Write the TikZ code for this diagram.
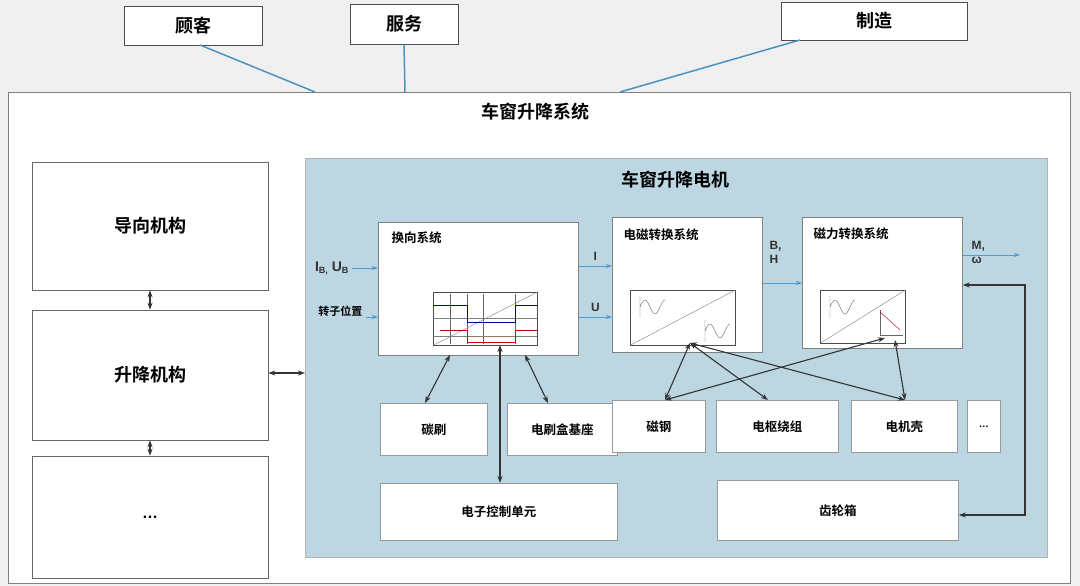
\documentclass[tikz,border=0pt]{standalone}
\usepackage{fontspec}
\usetikzlibrary{arrows.meta}
\setmainfont{Liberation Sans}
\newfontfamily\cjk{Noto Sans CJK SC Bold}
\definecolor{motbg}{HTML}{BCD6E2}
\definecolor{lnk}{HTML}{4A93BE}
\definecolor{sigc}{HTML}{4F9AD0}
\begin{document}
\begin{tikzpicture}[x=1pt,y=-1pt,
 box/.style={draw=black!70,line width=0.8pt,fill=white},
 sys/.style={draw=black!60,line width=0.6pt,fill=white},
 lbl/.style={font=\cjk\fontsize{18}{20}\selectfont},
 slbl/.style={font=\cjk\fontsize{12.5}{14}\selectfont},
 link/.style={draw=lnk,line width=1.5pt},
 dbl/.style={{Stealth[length=7pt,width=5pt]}-{Stealth[length=7pt,width=5pt]},line width=1.1pt,draw=black!80},
 sig/.style={-{Stealth[length=6pt,width=4pt]},line width=0.9pt,draw=sigc},
 sigl/.style={font=\bfseries\fontsize{12}{14}\selectfont,text=black!80}]
\useasboundingbox (0,0) rectangle (1080,586);
\fill[black!6] (0,0) rectangle (1080,586);
% top
\node[box,minimum width=138,minimum height=39,lbl] (ku) at (193,25.5) {顾客};
\node[box,minimum width=108,minimum height=40,lbl] (fw) at (404,24) {服务};
\node[box,minimum width=186,minimum height=38,lbl] (zz) at (874,21) {制造};
\node[sys,minimum width=1062,minimum height=491,anchor=north west,draw=black!50] (sys) at (8,92) {};
\coordinate (s1) at (315,92); \coordinate (s2) at (405,92); \coordinate (s3) at (620,92);
\draw[link] (200,45) -- (s1); \draw[link] (fw.south) -- (s2); \draw[link] (800,40) -- (s3);
\node[lbl] (st) at (535,112) {车窗升降系统};
% left
\node[sys,minimum width=236,minimum height=128,lbl] (dx) at (150,226) {导向机构};
\node[sys,minimum width=236,minimum height=130,lbl] (sj) at (150,375) {升降机构};
\node[sys,minimum width=236,minimum height=122,font=\bfseries\fontsize{16}{18}\selectfont] (dd) at (150,517) {\dots};
\draw[dbl] (dx.south) -- (dx.south|-sj.north);
\draw[dbl] (sj.south) -- (sj.south|-dd.north);
% motor
\node[draw=black!30,fill=motbg,minimum width=742,minimum height=399,anchor=north west] (mot) at (305,158) {};
\draw[dbl] (sj.east|-0,373) -- (mot.west|-0,373);
\node[lbl] (mt) at (675,180) {车窗升降电机};
\node[box,draw=black!50,minimum width=200,minimum height=133,anchor=north west] (hx) at (378,222) {};
\node[box,draw=black!50,minimum width=150,minimum height=135,anchor=north west] (dc) at (612,217) {};
\node[box,draw=black!50,minimum width=160,minimum height=131,anchor=north west] (cl) at (802,217) {};
\node[slbl,anchor=north west] (hxl) at (388,228) {换向系统};
\node[slbl,anchor=north west] (dcl) at (620,225) {电磁转换系统};
\node[slbl,anchor=north west] (cll) at (810,224) {磁力转换系统};
% charts
\node[draw=black!70,fill=white,minimum width=104,minimum height=53,anchor=north west] (c1) at (433,292) {};
\draw[black!50] (c1.south west) -- (c1.north east);
\foreach \x in {450,467,483,515} \draw[black!60] (\x,294) -- (\x,344);
\draw[black!50] (c1.west|-0,318) -- (c1.east|-0,318) (c1.west|-0,336) -- (c1.east|-0,336);
\draw[blue!60!black,line width=1pt] (c1.west|-0,305) -- (467,305) -- (467,322) -- (515,322) -- (515,305) -- (c1.east|-0,305);
\draw[red!80!black,line width=1pt] (440,330) -- (467,330) -- (467,342) -- (515,342) -- (515,330) -- (c1.east|-0,330);
\node[draw=black!70,fill=white,minimum width=105,minimum height=55,anchor=north west] (c2) at (630,290) {};
\draw[black!50] (c2.south west) -- (c2.north east);
\draw[black!60] (640,296) -- (640,318) (640,307) sin (645,300) cos (650,307) sin (655,314) cos (660,307) sin (665,300);
\draw[black!60] (705,320) -- (705,342) (705,331) sin (710,324) cos (715,331) sin (720,338) cos (725,331) sin (730,324);
\node[draw=black!70,fill=white,minimum width=85,minimum height=53,anchor=north west] (c3) at (820,290) {};
\draw[black!50] (c3.south west) -- (c3.north east);
\draw[black!60] (830,296) -- (830,318) (830,307) sin (835,300) cos (840,307) sin (845,314) cos (850,307) sin (855,300);
\draw[black!60] (880,310) -- (880,335) -- (903,335); \draw[red!70!black] (880,312) -- (900,330);
% signals
\node[sigl,anchor=east,font=\bfseries\fontsize{14}{16}\selectfont] (ibl) at (352,268) {I\raisebox{-0.3ex}{\fontsize{9}{10}\selectfont B,} U\raisebox{-0.3ex}{\fontsize{9}{10}\selectfont B}};
\node[anchor=east,font=\cjk\fontsize{11}{12}\selectfont] (rpl) at (366,311) {转子位置};
\draw[sig] (ibl.east) -- (hx.west|-ibl.east);
\draw[sig] (rpl.east|-0,317) -- (hx.west|-0,317);
\draw[sig] (hx.east|-0,266) -- (dc.west|-0,266) node[midway,above=2pt,sigl] {I};
\draw[sig] (hx.east|-0,317) -- (dc.west|-0,317) node[midway,above=2pt,sigl] {U};
\draw[sig] (dc.east|-0,283) -- (cl.west|-0,283);
\node[sigl,align=left,anchor=north west] (bh) at (766,238) {B,\\H};
\draw[sig] (cl.east|-0,255) -- (1020,255);
\node[sigl,align=left,anchor=north west] (mw) at (968,238) {M,\\ω};
% bottom boxes
\node[box,draw=black!40,minimum width=107,minimum height=52,slbl,anchor=north west] (tb) at (380,403) {碳刷};
\node[box,draw=black!40,minimum width=110,minimum height=52,slbl,anchor=north west] (jz) at (507,403) {电刷盒基座};
\node[box,draw=black!40,minimum width=93,minimum height=52,slbl,anchor=north west] (cg) at (612,400) {磁钢};
\node[box,draw=black!40,minimum width=122,minimum height=52,slbl,anchor=north west] (rz) at (716,400) {电枢绕组};
\node[box,draw=black!40,minimum width=106,minimum height=52,slbl,anchor=north west] (jk) at (851,400) {电机壳};
\node[box,draw=black!40,minimum width=33,minimum height=52,font=\bfseries,anchor=north west] (dt) at (967,400) {\dots};
\node[box,draw=black!40,minimum width=237,minimum height=57,slbl,anchor=north west] (ec) at (380,483) {电子控制单元};
\node[box,draw=black!40,minimum width=241,minimum height=60,slbl,anchor=north west] (cl2) at (717,480) {齿轮箱};
% arrows
\draw[dbl] (450,355) -- (425,403);
\draw[dbl] (500,345) -- (500,483);
\draw[dbl] (525,355) -- (548,403);
\coordinate (p2) at (690,343); \coordinate (p3) at (885,338);
\draw[dbl] (p2) -- (665,400); \draw[dbl] (p2) -- (768,400); \draw[dbl] (p2) -- (905,400);
\draw[dbl] (p3) -- (665,400); \draw[dbl] (895,340) -- (905,400);
\draw[dbl] (cl.east|-0,285) -- (1025,285) -- (1025,515) -- (cl2.east|-0,515);
\end{tikzpicture}
\end{document}
